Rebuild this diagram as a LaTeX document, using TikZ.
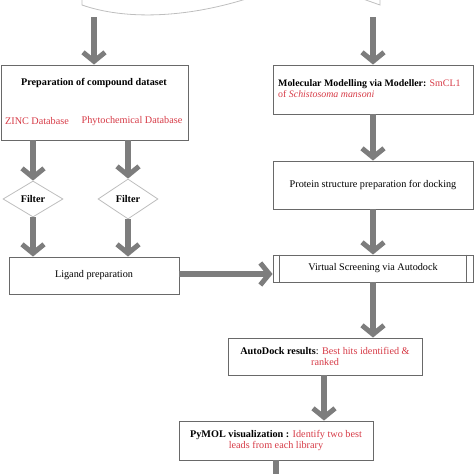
\documentclass[tikz,border=0pt]{standalone}
\usepackage{fontspec}
\setmainfont{Liberation Serif}
\usetikzlibrary{arrows.meta,shapes.geometric}
\definecolor{agray}{RGB}{125,125,125}
\definecolor{bgray}{RGB}{105,105,105}
\definecolor{lgray}{RGB}{190,190,190}
\definecolor{tred}{RGB}{214,58,70}
\tikzset{
  txt/.style={font=\fontsize{10.2}{11.5}\selectfont},
  box/.style={draw=bgray, line width=0.9pt, rectangle, inner sep=0pt, align=center, txt},
  dia/.style={draw=lgray, line width=0.8pt, diamond, aspect=1.6, inner sep=0pt, font=\bfseries\fontsize{10.2}{11.5}\selectfont},
  flow/.style={draw=agray, line width=5.5pt, -{Straight Barb[length=9pt,width=22pt,line width=5pt]}},
  red/.style={text=tred}
}
\begin{document}
\begin{tikzpicture}[x=1pt,y=-1pt]
\useasboundingbox (0,0) rectangle (474,474);
% top cut-off shapes
\draw[lgray, line width=0.8pt] (82,-2) -- (82,5) .. controls (125,20) and (185,18) .. (246,-1);
\draw[lgray, line width=0.8pt] (363,-1) -- (380,5) -- (380,-2);
\coordinate (s1) at (94,17);
\coordinate (s2) at (373,17);
% boxes
\node[box, minimum width=187pt, minimum height=75pt] (P) at (94.5,102.5) {};
\node[txt, font=\bfseries\fontsize{10.2}{11.5}\selectfont] (Pt) at (94,83) {Preparation of compound dataset};
\node[red, txt] (Z) at (37,121) {ZINC Database};
\node[red, txt] (Ph) at (132,121) {Phytochemical Database};
\node[box, minimum width=200pt, minimum height=49pt] (M) at (373,89.5) {};
\node[anchor=west, align=left, inner sep=0pt, font=\fontsize{9.9}{11}\selectfont] (Mt) at (278,89)
  {\textbf{Molecular Modelling via Modeller: }\textcolor{tred}{SmCL1}\\\textcolor{tred}{of \textit{Schistosoma mansoni}}};
\node[box, minimum width=200pt, minimum height=48pt] (Pr) at (373,185) {Protein structure preparation for docking};
\node[box, minimum width=200pt, minimum height=27pt] (VS) at (373,268.5) {Virtual Screening via Autodock};
\draw[bgray, line width=0.5pt] ([xshift=7pt]VS.north west) -- ([xshift=7pt]VS.south west);
\draw[bgray, line width=0.5pt] ([xshift=-7pt]VS.north east) -- ([xshift=-7pt]VS.south east);
\node[dia, minimum width=60pt, minimum height=36pt] (F1) at (33,199) {Filter};
\node[dia, minimum width=60pt, minimum height=40pt] (F2) at (128,199) {Filter};
\node[box, minimum width=170pt, minimum height=37pt] (L) at (94,275.5) {Ligand preparation};
\node[box, minimum width=194pt, minimum height=37pt] (A) at (325,356.5)
  {\textbf{AutoDock results}: \textcolor{tred}{Best hits identified \&}\\\textcolor{tred}{ranked}};
\node[box, minimum width=194pt, minimum height=39pt] (Py) at (276,440.5)
  {\textbf{PyMOL visualization : }\textcolor{tred}{Identify two best}\\\textcolor{tred}{leads from each library}};
\coordinate (e) at (276,478);
% connectors
\draw[flow] (s1) -- (s1 |- P.north);
\draw[flow] (s2) -- (s2 |- M.north);
\draw[flow] (P.south -| F1.north) -- (F1.north);
\draw[flow] (P.south -| F2.north) -- (F2.north);
\draw[flow] (F1.south) -- (F1.south |- L.north);
\draw[flow] (F2.south) -- (F2.south |- L.north);
\draw[flow] (M.south -| s2) -- (Pr.north -| s2);
\draw[flow] (Pr.south) -- (VS.north);
\draw[flow] (L.east |- 0,274) -- (VS.west |- 0,274);
\draw[flow] (VS.south) -- (VS.south |- A.north);
\draw[flow] (A.south -| 324,0) -- (Py.north -| 324,0);
\draw[draw=agray, line width=5.5pt] (Py.south) -- (e);
\end{tikzpicture}
\end{document}
